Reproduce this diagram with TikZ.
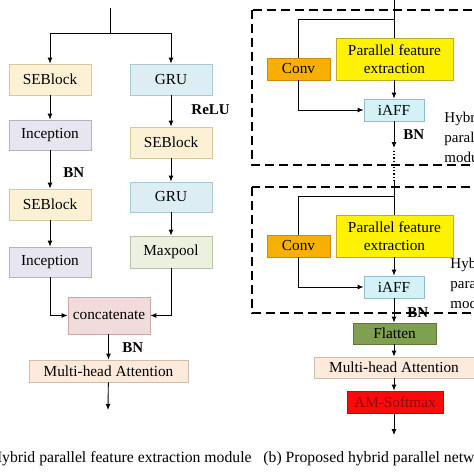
\documentclass[tikz,border=0pt]{standalone}
\usepackage{fontspec}
\setmainfont{Liberation Serif}
\usepackage{xcolor}
\usetikzlibrary{arrows.meta, calc}

\definecolor{seFill}{RGB}{252,241,212}
\definecolor{seLine}{RGB}{214,200,160}
\definecolor{gruFill}{RGB}{220,238,243}
\definecolor{gruLine}{RGB}{170,200,210}
\definecolor{incFill}{RGB}{231,229,239}
\definecolor{incLine}{RGB}{180,178,195}
\definecolor{maxFill}{RGB}{235,241,222}
\definecolor{maxLine}{RGB}{184,196,168}
\definecolor{catFill}{RGB}{242,220,219}
\definecolor{catLine}{RGB}{200,168,168}
\definecolor{mhaFill}{RGB}{253,234,218}
\definecolor{mhaLine}{RGB}{210,190,175}
\definecolor{convFill}{RGB}{247,176,0}
\definecolor{convLine}{RGB}{200,140,20}
\definecolor{pfeFill}{RGB}{255,242,0}
\definecolor{pfeLine}{RGB}{190,175,40}
\definecolor{iaffFill}{RGB}{210,242,248}
\definecolor{iaffLine}{RGB}{150,190,200}
\definecolor{flatFill}{RGB}{126,160,80}
\definecolor{flatLine}{RGB}{95,120,55}
\definecolor{amFill}{RGB}{250,10,10}
\definecolor{amLine}{RGB}{170,20,20}
\definecolor{amText}{RGB}{140,10,10}

\begin{document}
\begin{tikzpicture}[x=1pt, y=-1pt, line width=0.9pt,
		>={Latex[length=6pt,width=5pt]},
		box/.style={draw, line width=0.8pt, inner sep=0pt, align=center,
			font=\fontsize{15.3}{18}\selectfont, minimum width=82pt, minimum height=31pt},
		small/.style={box, minimum height=22pt},
		lbl/.style={font=\fontsize{15}{18}\selectfont\bfseries, inner sep=0pt, anchor=west},
		side/.style={font=\fontsize{15}{20}\selectfont, inner sep=0pt, align=left, anchor=north west},
		module/.style={draw, line width=1.3pt, dash pattern=on 9pt off 5pt}]
	\useasboundingbox (0,0) rectangle (474,474);
	\clip (0,0) rectangle (474,474);

	\node[box, fill=seFill, draw=seLine] (seA) at (50,79.5) {SEBlock};
	\node[box, fill=gruFill, draw=gruLine] (gruA) at (171,79.5) {GRU};
	\node[box, fill=incFill, draw=incLine, minimum height=30pt] (incA) at (50,135) {Inception};
	\node[box, fill=seFill, draw=seLine] (seB) at (171,142.5) {SEBlock};
	\node[box, fill=seFill, draw=seLine] (seC) at (50,204.5) {SEBlock};
	\node[box, fill=gruFill, draw=gruLine, minimum height=30pt] (gruB) at (171,197) {GRU};
	\node[box, fill=incFill, draw=incLine, minimum height=30pt] (incB) at (50,262) {Inception};
	\node[box, fill=maxFill, draw=maxLine, minimum height=32pt] (maxp) at (171,252) {Maxpool};
	\node[box, fill=catFill, draw=catLine, minimum height=37pt] (concat) at (109,315.5) {concatenate};
	\node[small, fill=mhaFill, draw=mhaLine, minimum width=159pt] (mhaL) at (108.5,371) {Multi-head Attention};

	\coordinate (inL) at (110,8);
	\coordinate (splitL) at (110,33);
	\coordinate (outL) at (108,410);
	\draw (inL) -- (splitL);
	\draw[->] (splitL) -| (seA);
	\draw[->] (splitL) -| (gruA);
	\draw[->] (seA) -- (incA);
	\draw[->] (incA) -- (seC);
	\draw[->] (seC) -- (incB);
	\draw[->] (gruA) -- (seB);
	\draw[->] (seB) -- (gruB);
	\draw[->] (gruB) -- (maxp);
	\draw[->] (incB.south) |- (concat.west);
	\draw[->] (maxp.south) |- (concat.east);
	\draw[->] (concat.south -| mhaL.north) -- (mhaL);
	\draw[->] (mhaL) -- (outL);
	\node[lbl] (bnA) at (63,173) {BN};
	\node[lbl] (relu) at (191,110) {ReLU};
	\node[lbl] (bnB) at (122,348) {BN};

	\draw[module] (252,10) rectangle (480,165);
	\draw[module] (252,187) rectangle (480,313);

	\node[small, fill=convFill, draw=convLine, minimum width=63pt] (convA) at (298.5,69) {Conv};
	\node[box, fill=pfeFill, draw=pfeLine, minimum width=117pt, minimum height=42pt] (pfeA) at (394.5,59) {Parallel feature\\extraction};
	\node[small, fill=iaffFill, draw=iaffLine, minimum width=60pt] (iaffA) at (394,110) {iAFF};
	\node[small, fill=convFill, draw=convLine, minimum width=63pt] (convB) at (298.5,246) {Conv};
	\node[box, fill=pfeFill, draw=pfeLine, minimum width=117pt, minimum height=42pt] (pfeB) at (394.5,236) {Parallel feature\\extraction};
	\node[small, fill=iaffFill, draw=iaffLine, minimum width=60pt] (iaffB) at (394,287) {iAFF};
	\node[small, fill=flatFill, draw=flatLine, minimum width=83pt, minimum height=21pt] (flat) at (394.5,333.5) {Flatten};
	\node[small, fill=mhaFill, draw=mhaLine, minimum width=160pt, minimum height=21pt] (mhaR) at (394,367.5) {Multi-head Attention};
	\node[small, fill=amFill, draw=amLine, minimum width=96pt, text=amText] (amsm) at (395,402) {AM-Softmax};

	\coordinate (inR) at (394,0);
	\coordinate (brA) at (394,19);
	\coordinate (endA) at (394,148);
	\coordinate (dotA) at (394,151);
	\coordinate (dotB) at (394,180);
	\coordinate (brB) at (394,196);
	\coordinate (outR) at (394,435);
	\draw (inR) -- (pfeA.north -| inR);
	\draw (brA) -| (convA);
	\draw[->] (pfeA.south -| iaffA) -- (iaffA);
	\draw[->] (convA) |- (iaffA);
	\draw[->] (iaffA) -- (endA);
	\draw[dotted, line width=1.2pt] (dotA) -- (dotB);
	\draw (dotB) -- (pfeB.north -| dotB);
	\draw (brB) -| (convB);
	\draw[->] (pfeB.south -| iaffB) -- (iaffB);
	\draw[->] (convB) |- (iaffB);
	\draw[->] (iaffB) -- (flat.north -| iaffB);
	\draw[->] (flat.south -| mhaR) -- (mhaR);
	\draw[->] (mhaR.south -| iaffB) -- (amsm.north -| iaffB);
	\draw[->] (amsm.south -| outR) -- (outR);
	\node[lbl] (bnC) at (403,135) {BN};
	\node[lbl] (bnD) at (407,313) {BN};
	\node[side] (hpA) at (444,112) {Hybrid\\parallel\\module};
	\node[side] (hpB) at (450,258) {Hybrid\\parallel\\module};

	\node[font=\fontsize{15.7}{18}\selectfont, inner sep=0pt, anchor=base east] (capA) at (252,462) {(a) Hybrid parallel feature extraction module};
	\node[font=\fontsize{15.7}{18}\selectfont, inner sep=0pt, anchor=base west] (capB) at (263,462) {(b) Proposed hybrid parallel network};
\end{tikzpicture}
\end{document}
